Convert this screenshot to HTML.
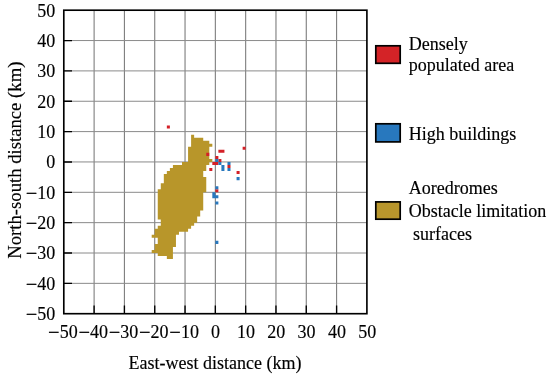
<!DOCTYPE html>
<html><head><meta charset="utf-8"><title>chart</title><style>html,body{margin:0;padding:0;background:#fff} .t{font-family:"Liberation Serif","Times New Roman",serif;font-size:18px;fill:#000;stroke:#000;stroke-width:0.15px}</style></head><body>
<svg width="550" height="377" viewBox="0 0 550 377" style="display:block">
<rect width="550" height="377" fill="#fff"/>
<path d="M94.11 10.2V313.7 M124.42 10.2V313.7 M154.73 10.2V313.7 M185.04 10.2V313.7 M215.35 10.2V313.7 M245.66 10.2V313.7 M275.97 10.2V313.7 M306.28 10.2V313.7 M336.59 10.2V313.7" stroke="#7e7e7e" stroke-width="1.1" fill="none"/>
<path d="M63.8 283.35H366.9 M63.8 253.00H366.9 M63.8 222.65H366.9 M63.8 192.30H366.9 M63.8 161.95H366.9 M63.8 131.60H366.9 M63.8 101.25H366.9 M63.8 70.90H366.9 M63.8 40.55H366.9" stroke="#8a8a8a" stroke-width="1" fill="none"/>
<path d="M191.10 134.63L191.10 137.67L191.10 137.67L191.10 140.70L191.10 140.70L191.10 143.74L191.10 143.74L191.10 146.77L188.07 146.77L188.07 149.81L188.07 149.81L188.07 152.84L188.07 152.84L188.07 155.88L188.07 155.88L188.07 158.91L188.07 158.91L188.07 161.95L182.01 161.95L182.01 164.98L172.92 164.98L172.92 168.02L169.88 168.02L169.88 171.05L166.85 171.05L166.85 174.09L163.82 174.09L163.82 177.12L163.82 177.12L163.82 180.16L163.82 180.16L163.82 183.19L160.79 183.19L160.79 186.23L160.79 186.23L160.79 189.26L157.76 189.26L157.76 192.30L157.76 192.30L157.76 195.33L157.76 195.33L157.76 198.37L157.76 198.37L157.76 201.41L157.76 201.41L157.76 204.44L157.76 204.44L157.76 207.47L157.76 207.47L157.76 210.51L157.76 210.51L157.76 213.54L157.76 213.54L157.76 216.58L157.76 216.58L157.76 219.61L160.79 219.61L160.79 222.65L160.79 222.65L160.79 225.69L157.76 225.69L157.76 228.72L154.73 228.72L154.73 231.75L154.73 231.75L154.73 234.79L151.70 234.79L151.70 237.82L157.76 237.82L157.76 240.86L157.76 240.86L157.76 243.89L154.73 243.89L154.73 246.93L154.73 246.93L154.73 249.96L151.70 249.96L151.70 253.00L157.76 253.00L157.76 256.04L166.85 256.04L166.85 259.07L172.92 259.07L172.92 256.04L172.92 256.04L172.92 253.00L172.92 253.00L172.92 249.96L172.92 249.96L172.92 246.93L175.95 246.93L175.95 243.89L175.95 243.89L175.95 240.86L175.95 240.86L175.95 237.82L175.95 237.82L175.95 234.79L178.98 234.79L178.98 231.75L188.07 231.75L188.07 228.72L191.10 228.72L191.10 225.69L194.13 225.69L194.13 222.65L197.16 222.65L197.16 219.61L197.16 219.61L197.16 216.58L200.19 216.58L200.19 213.54L200.19 213.54L200.19 210.51L203.23 210.51L203.23 207.47L203.23 207.47L203.23 204.44L203.23 204.44L203.23 201.41L203.23 201.41L203.23 198.37L203.23 198.37L203.23 195.33L203.23 195.33L203.23 192.30L206.26 192.30L206.26 189.26L206.26 189.26L206.26 186.23L206.26 186.23L206.26 183.19L206.26 183.19L206.26 180.16L206.26 180.16L206.26 177.12L203.23 177.12L203.23 174.09L203.23 174.09L203.23 171.05L206.26 171.05L206.26 168.02L206.26 168.02L206.26 164.98L209.29 164.98L209.29 161.95L212.32 161.95L212.32 158.91L209.29 158.91L209.29 155.88L209.29 155.88L209.29 152.84L209.29 152.84L209.29 149.81L209.29 149.81L209.29 146.77L212.32 146.77L212.32 143.74L209.29 143.74L209.29 140.70L203.23 140.70L203.23 137.67L194.13 137.67L194.13 134.63Z" fill="#b8962a"/>
<path d="M166.85 125.53H169.88V128.56H166.85ZM242.63 146.77H245.66V149.81H242.63ZM218.38 149.81H221.41V152.84H218.38ZM221.41 149.81H224.44V152.84H221.41ZM206.26 152.84H209.29V155.88H206.26ZM215.35 155.88H218.38V158.91H215.35ZM218.38 158.91H221.41V161.95H218.38ZM212.32 161.95H215.35V164.98H212.32ZM215.35 161.95H218.38V164.98H215.35ZM227.47 164.98H230.50V168.02H227.47ZM209.29 168.02H212.32V171.05H209.29ZM236.57 171.05H239.60V174.09H236.57ZM215.35 189.26H218.38V192.30H215.35Z" fill="#d42027"/>
<path d="M215.35 158.91H218.38V161.95H215.35ZM218.38 161.95H221.41V164.98H218.38ZM227.47 161.95H230.50V164.98H227.47ZM221.41 164.98H224.44V168.02H221.41ZM221.41 168.02H224.44V171.05H221.41ZM227.47 168.02H230.50V171.05H227.47ZM236.57 177.12H239.60V180.16H236.57ZM215.35 186.23H218.38V189.26H215.35ZM212.32 192.30H215.35V195.33H212.32ZM212.32 195.33H215.35V198.37H212.32ZM215.35 195.33H218.38V198.37H215.35ZM215.35 201.41H218.38V204.44H215.35ZM215.35 240.86H218.38V243.89H215.35Z" fill="#2878be"/>
<rect x="63.8" y="10.2" width="303.10" height="303.50" fill="none" stroke="#000" stroke-width="1.65"/>
<path d="M94.11 313.7v-8.2 M63.8 283.35h8.2 M124.42 313.7v-8.2 M63.8 253.00h8.2 M154.73 313.7v-8.2 M63.8 222.65h8.2 M185.04 313.7v-8.2 M63.8 192.30h8.2 M215.35 313.7v-8.2 M63.8 161.95h8.2 M245.66 313.7v-8.2 M63.8 131.60h8.2 M275.97 313.7v-8.2 M63.8 101.25h8.2 M306.28 313.7v-8.2 M63.8 70.90h8.2 M336.59 313.7v-8.2 M63.8 40.55h8.2" stroke="#000" stroke-width="1.35" fill="none"/>
<g class="t">
<text x="55.2" y="320.0" text-anchor="end"><tspan style="font-size:20.5px" dy="0.9">−</tspan><tspan dy="-0.9">50</tspan></text>
<text x="62.9" y="337.8" text-anchor="middle"><tspan style="font-size:20.5px" dy="0.9">−</tspan><tspan dy="-0.9">50</tspan></text>
<text x="55.2" y="289.6" text-anchor="end"><tspan style="font-size:20.5px" dy="0.9">−</tspan><tspan dy="-0.9">40</tspan></text>
<text x="93.2" y="337.8" text-anchor="middle"><tspan style="font-size:20.5px" dy="0.9">−</tspan><tspan dy="-0.9">40</tspan></text>
<text x="55.2" y="259.3" text-anchor="end"><tspan style="font-size:20.5px" dy="0.9">−</tspan><tspan dy="-0.9">30</tspan></text>
<text x="123.5" y="337.8" text-anchor="middle"><tspan style="font-size:20.5px" dy="0.9">−</tspan><tspan dy="-0.9">30</tspan></text>
<text x="55.2" y="228.9" text-anchor="end"><tspan style="font-size:20.5px" dy="0.9">−</tspan><tspan dy="-0.9">20</tspan></text>
<text x="153.8" y="337.8" text-anchor="middle"><tspan style="font-size:20.5px" dy="0.9">−</tspan><tspan dy="-0.9">20</tspan></text>
<text x="55.2" y="198.6" text-anchor="end"><tspan style="font-size:20.5px" dy="0.9">−</tspan><tspan dy="-0.9">10</tspan></text>
<text x="184.1" y="337.8" text-anchor="middle"><tspan style="font-size:20.5px" dy="0.9">−</tspan><tspan dy="-0.9">10</tspan></text>
<text x="55.2" y="168.2" text-anchor="end">0</text>
<text x="215.6" y="337.8" text-anchor="middle">0</text>
<text x="55.2" y="137.9" text-anchor="end">10</text>
<text x="246.0" y="337.8" text-anchor="middle">10</text>
<text x="55.2" y="107.5" text-anchor="end">20</text>
<text x="276.3" y="337.8" text-anchor="middle">20</text>
<text x="55.2" y="77.2" text-anchor="end">30</text>
<text x="306.6" y="337.8" text-anchor="middle">30</text>
<text x="55.2" y="46.8" text-anchor="end">40</text>
<text x="336.9" y="337.8" text-anchor="middle">40</text>
<text x="55.2" y="16.5" text-anchor="end">50</text>
<text x="367.2" y="337.8" text-anchor="middle">50</text>
<text x="215" y="369" text-anchor="middle">East-west distance (km)</text>
<text transform="translate(21.2,160.2) rotate(-90)" text-anchor="middle" style="font-size:18.7px">North-south distance (km)</text>
<text x="408.8" y="49.5">Densely</text><text x="408.8" y="70.8">populated area</text>
<text x="408.8" y="139.5">High buildings</text>
<text x="408.8" y="193.8">Aoredromes</text><text x="408.8" y="216.7">Obstacle limitation</text><text x="413" y="239.6">surfaces</text>
</g>
<rect x="375.8" y="45.8" width="24.4" height="17.5" fill="#d42327" stroke="#000" stroke-width="1.7"/>
<rect x="375.8" y="123.8" width="24.4" height="18.1" fill="#2878be" stroke="#000" stroke-width="1.7"/>
<rect x="375.8" y="201.9" width="24.4" height="17.3" fill="#b8962c" stroke="#000" stroke-width="1.7"/>
</svg>
</body></html>
